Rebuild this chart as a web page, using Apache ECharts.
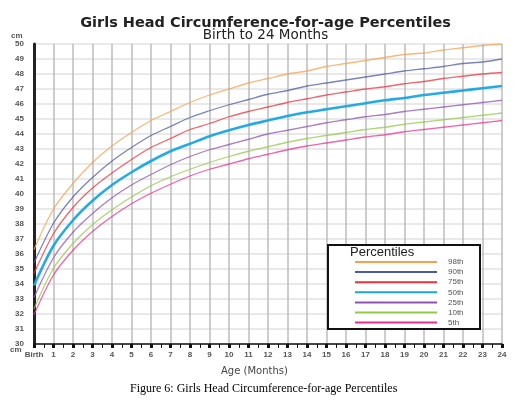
<!DOCTYPE html>
<html>
<head>
<meta charset="utf-8">
<script src="https://cdn.jsdelivr.net/npm/echarts@6/dist/echarts.min.js"></script>
<style>
  html, body { margin: 0; padding: 0; background: #fff; }
  #chart { width: 531px; height: 415px; }
</style>
</head>
<body>
<div id="chart"></div>
<script>
// months 0..24 (0 = Birth)
const months = [0, 1, 2, 3, 4, 5, 6, 7, 8, 9, 10, 11, 12, 13, 14, 15, 16, 17, 18, 19, 20, 21, 22, 23, 24];

// head circumference, cm
const p98 = [36.3, 39.0, 40.7, 42.1, 43.2, 44.1, 44.9, 45.5, 46.1, 46.6, 47.0, 47.4, 47.7, 48.0, 48.2, 48.5, 48.7, 48.9, 49.1, 49.3, 49.4, 49.6, 49.75, 49.9, 50.0];
const p90 = [35.4, 38.05, 39.8, 41.1, 42.2, 43.1, 43.9, 44.5, 45.1, 45.55, 45.95, 46.3, 46.65, 46.9, 47.2, 47.4, 47.6, 47.8, 48.0, 48.2, 48.35, 48.5, 48.7, 48.8, 49.0];
const p75 = [34.7, 37.35, 39.1, 40.4, 41.4, 42.3, 43.1, 43.7, 44.3, 44.7, 45.15, 45.5, 45.8, 46.1, 46.35, 46.6, 46.8, 47.0, 47.15, 47.35, 47.5, 47.7, 47.85, 48.0, 48.1];
const p50 = [33.9, 36.55, 38.25, 39.55, 40.6, 41.45, 42.2, 42.85, 43.35, 43.85, 44.25, 44.6, 44.9, 45.2, 45.45, 45.65, 45.85, 46.05, 46.25, 46.4, 46.6, 46.75, 46.9, 47.05, 47.2];
const p25 = [33.1, 35.75, 37.45, 38.7, 39.75, 40.6, 41.3, 41.95, 42.5, 42.95, 43.3, 43.65, 44.0, 44.25, 44.5, 44.75, 44.95, 45.15, 45.3, 45.5, 45.65, 45.8, 45.95, 46.1, 46.25];
const p10 = [32.35, 35.05, 36.7, 37.95, 38.95, 39.8, 40.55, 41.15, 41.65, 42.1, 42.5, 42.85, 43.15, 43.45, 43.7, 43.9, 44.1, 44.3, 44.45, 44.65, 44.8, 44.95, 45.1, 45.25, 45.4];
const p5 = [31.95, 34.6, 36.25, 37.5, 38.5, 39.35, 40.05, 40.65, 41.2, 41.65, 42.0, 42.35, 42.65, 42.95, 43.2, 43.4, 43.6, 43.8, 43.95, 44.15, 44.3, 44.45, 44.6, 44.75, 44.9];

const names = ['98th', '90th', '75th', '50th', '25th', '10th', '5th'];
const colors = ['#f4a24f', '#4d5ba3', '#e9323d', '#19a6e2', '#8d52b3', '#92c946', '#e8318d'];
const values = [p98, p90, p75, p50, p25, p10, p5];

const chart = echarts.init(document.getElementById('chart'));

const series = names.map((n, i) => ({
    name: n,
    type: 'line',
    smooth: 0.3,
    symbol: 'none',
    data: months.map((m, k) => [m, values[i][k]]),
    lineStyle: {
        color: colors[i],
        width: n === '50th' ? 2.6 : 1.3,
        opacity: n === '50th' ? 0.95 : 0.75
    },
    itemStyle: { color: colors[i] },
    z: n === '50th' ? 3 : 2
}));

chart.setOption({
    animation: false,
    title: {
        left: 'center',
        top: 11,
        text: 'Girls Head Circumference-for-age Percentiles',
        subtext: 'Birth to 24 Months',
        itemGap: -3,
        textStyle: { fontFamily: 'DejaVu Sans', fontWeight: 'bold', fontSize: 14.5, color: '#222' },
        subtextStyle: { fontFamily: 'DejaVu Sans', fontSize: 13.5, color: '#222' }
    },
    grid: { left: 34, right: 29, top: 44, bottom: 71 },
    xAxis: {
        type: 'value',
        min: 0, max: 24, interval: 1,
        axisLine: { show: true, lineStyle: { color: '#111', width: 1.5 } },
        axisTick: { show: true, length: 4, lineStyle: { color: '#111', width: 3 } },
        minorTick: { show: true, splitNumber: 2, length: 4, lineStyle: { color: '#111', width: 1 } },
        axisLabel: {
            margin: 7,
            fontFamily: 'Liberation Sans', fontSize: 8, fontWeight: 'bold', color: '#555',
            formatter: v => v === 0 ? 'Birth' : v
        },
        splitLine: { show: true, lineStyle: { color: '#bdbdbd', width: 1.5 } }
    },
    yAxis: {
        type: 'value',
        min: 30, max: 50, interval: 1,
        axisLine: { show: true, lineStyle: { color: '#222', width: 3 } },
        axisTick: { show: false },
        axisLabel: { margin: 10, fontFamily: 'Liberation Sans', fontSize: 8, fontWeight: 'bold', color: '#555' },
        splitLine: { show: true, lineStyle: { color: '#e2e2e2', width: 1.5 } }
    },
    legend: {
        orient: 'vertical',
        left: 350, top: 252,
        z: 100,
        data: names,
        icon: 'rect',
        itemWidth: 82, itemHeight: 2, itemGap: 0.1,
        itemStyle: { opacity: 1 },
        selectedMode: false,
        textStyle: { fontFamily: 'Liberation Sans', fontSize: 8, color: '#555', lineHeight: 10, padding: [0, 0, 0, 6] }
    },
    graphic: [
        { type: 'rect', z: 50, shape: { x: 328, y: 245, width: 152, height: 84 },
          style: { fill: '#fff', stroke: '#111', lineWidth: 2 } },
        { type: 'text', z: 60, left: 350, top: 246,
          style: { text: 'Percentiles', font: '13px "Liberation Sans"', fill: '#222' } },
        { type: 'text', left: 11, top: 32, style: { text: 'cm', font: 'bold 8px "Liberation Sans"', fill: '#555' } },
        { type: 'text', left: 10, top: 346, style: { text: 'cm', font: 'bold 8px "Liberation Sans"', fill: '#555' } },
        { type: 'text', left: 221, top: 366, style: { text: 'Age (Months)', font: '10px "DejaVu Sans"', fill: '#444' } },
        { type: 'text', left: 130, top: 383, style: { text: 'Figure 6: Girls Head Circumference-for-age Percentiles', font: '12px "Liberation Serif"', fill: '#000' } }
    ],
    series: series
});
</script>
</body>
</html>
